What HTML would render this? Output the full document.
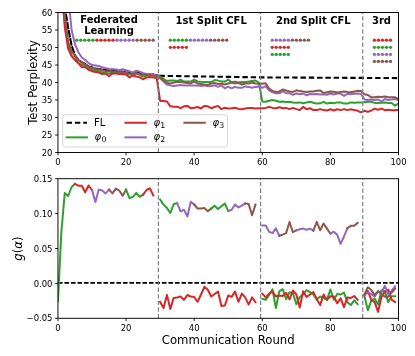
<!DOCTYPE html>
<html><head><meta charset="utf-8"><style>
html,body{margin:0;padding:0;background:#fff;}
svg{display:block;font-family:'DejaVu Sans', 'Liberation Sans', sans-serif;}
</style></head><body>
<svg width="415" height="356" viewBox="0 0 415 356">
<defs><clipPath id="ct"><rect x="57.95" y="12.50" width="340.55" height="140.00"/></clipPath>
<clipPath id="cb"><rect x="57.95" y="178.70" width="340.55" height="139.60"/></clipPath></defs>
<rect width="415" height="356" fill="#fff"/>
<polyline clip-path="url(#ct)" points="64.76,6.60 68.17,28.00 71.57,45.50 74.98,55.50 78.38,60.00 81.79,62.20 85.19,64.00 88.60,66.50 92.00,67.50 95.41,68.50 98.82,69.00 102.22,69.50 105.63,70.00 109.03,70.50 112.44,70.80 115.84,71.00 119.25,71.50 122.65,71.50 126.06,72.00 129.47,72.50 132.87,73.00 136.28,72.80 139.68,73.20 143.09,73.80 146.49,74.20 149.90,74.50 153.30,75.00 156.71,75.40 160.12,75.80" fill="none" stroke="#000" stroke-width="2.10" stroke-linejoin="round" stroke-linecap="square" stroke-dasharray="5.4 2.9"/>
<polyline clip-path="url(#ct)" points="159.40,75.80 194.17,76.33 262.28,77.40 330.39,77.75 398.50,78.10" fill="none" stroke="#000" stroke-width="2.1" stroke-dasharray="5.4 2.9" stroke-linecap="butt"/>
<polyline clip-path="url(#ct)" points="61.36,-40.00 64.76,20.00 68.17,45.00 71.57,55.50 74.98,60.00 78.38,63.00 81.79,65.00 85.19,66.00 88.60,68.50 92.00,70.00 95.41,70.50 98.82,71.50 102.22,72.50 105.63,72.90 109.03,73.40 112.44,72.50 115.84,73.00 119.25,73.20 122.65,73.00 126.06,73.50 129.47,74.50 132.87,74.50 136.28,73.10 139.68,75.00 143.09,76.50 146.49,75.50 149.90,74.50 153.30,75.50 156.71,75.30 160.12,76.70 163.52,78.70 166.93,81.10 170.33,80.60 173.74,80.60 177.14,81.10 180.55,79.60 183.95,81.60 187.36,81.60 190.76,81.50 194.17,79.60 197.58,81.40 200.98,81.80 204.39,82.00 207.79,82.00 211.20,82.00 214.60,80.10 218.01,80.60 221.41,81.40 224.82,81.60 228.23,79.60 231.63,82.50 235.04,83.50 238.44,82.50 241.85,82.00 245.25,82.00 248.66,81.60 252.06,81.10 255.47,80.60 258.87,82.50 262.28,101.40 265.69,101.80 269.09,100.70 272.50,100.00 275.90,100.70 279.31,101.80 282.71,101.40 286.12,102.10 289.52,101.80 292.93,102.40 296.33,102.80 299.74,102.40 303.15,103.30 306.55,102.40 309.96,101.80 313.36,102.80 316.77,103.60 320.17,103.30 323.58,101.80 326.98,103.60 330.39,102.80 333.80,103.30 337.20,102.40 340.61,102.40 344.01,103.60 347.42,103.60 350.82,102.40 354.23,102.80 357.63,102.50 361.04,102.60 364.44,102.20 367.85,101.80 371.26,101.70 374.66,102.90 378.07,102.90 381.47,102.70 384.88,102.40 388.28,102.90 391.69,102.90 395.09,105.70 398.50,103.50" fill="none" stroke="#2ca02c" stroke-width="2.00" stroke-linejoin="round" stroke-linecap="square" />
<polyline clip-path="url(#ct)" points="61.36,-13.80 64.76,27.00 68.17,48.80 71.57,56.00 74.98,59.80 78.38,63.10 81.79,67.20 85.19,67.20 88.60,69.80 92.00,71.20 95.41,71.90 98.82,72.60 102.22,74.10 105.63,73.40 109.03,76.30 112.44,73.40 115.84,73.50 119.25,73.90 122.65,74.20 126.06,74.50 129.47,77.40 132.87,75.50 136.28,76.50 139.68,77.40 143.09,79.30 146.49,77.40 149.90,77.00 153.30,77.40 156.71,77.90 160.12,100.90 163.52,100.90 166.93,101.50 170.33,106.30 173.74,106.70 177.14,106.70 180.55,108.20 183.95,106.30 187.36,105.90 190.76,108.20 194.17,107.70 197.58,107.00 200.98,108.50 204.39,105.90 207.79,106.30 211.20,108.20 214.60,107.00 218.01,105.90 221.41,109.20 224.82,107.70 228.23,108.50 231.63,108.20 235.04,107.70 238.44,108.90 241.85,109.20 245.25,108.50 248.66,107.90 252.06,108.00 255.47,108.50 258.87,108.20 262.28,108.30 265.69,107.90 269.09,106.90 272.50,107.90 275.90,108.20 279.31,107.20 282.71,108.20 286.12,107.90 289.52,109.10 292.93,107.90 296.33,109.10 299.74,110.10 303.15,106.90 306.55,109.30 309.96,108.20 313.36,110.10 316.77,110.00 320.17,109.10 323.58,110.10 326.98,110.50 330.39,109.30 333.80,110.50 337.20,109.30 340.61,110.10 344.01,109.10 347.42,110.10 350.82,109.30 354.23,110.10 357.63,110.80 361.04,112.30 364.44,110.80 367.85,111.90 371.26,110.50 374.66,108.60 378.07,109.70 381.47,108.60 384.88,110.20 388.28,109.70 391.69,110.20 395.09,110.20 398.50,109.70" fill="none" stroke="#d62728" stroke-width="2.00" stroke-linejoin="round" stroke-linecap="square" />
<polyline clip-path="url(#ct)" points="68.17,-5.00 71.57,30.00 74.98,44.20 78.38,52.20 81.79,57.50 85.19,59.80 88.60,63.10 92.00,65.10 95.41,65.40 98.82,65.90 102.22,67.30 105.63,68.30 109.03,68.70 112.44,69.00 115.84,69.60 119.25,70.30 122.65,69.20 126.06,70.20 129.47,71.20 132.87,72.60 136.28,70.70 139.68,71.60 143.09,73.10 146.49,74.00 149.90,74.50 153.30,74.00 156.71,75.40 160.12,78.20 163.52,81.60 166.93,84.50 170.33,85.40 173.74,85.90 177.14,85.40 180.55,84.90 183.95,85.40 187.36,85.40 190.76,85.40 194.17,85.60 197.58,85.40 200.98,85.90 204.39,85.40 207.79,86.20 211.20,85.90 214.60,85.40 218.01,86.90 221.41,85.40 224.82,88.30 228.23,86.60 231.63,88.30 235.04,86.90 238.44,87.80 241.85,87.80 245.25,86.40 248.66,86.90 252.06,87.80 255.47,86.90 258.87,86.50 262.28,87.80 265.69,86.10 269.09,90.50 272.50,92.40 275.90,93.30 279.31,93.30 282.71,91.40 286.12,92.90 289.52,93.30 292.93,94.80 296.33,93.50 299.74,94.30 303.15,93.50 306.55,95.40 309.96,94.00 313.36,94.30 316.77,94.00 320.17,94.40 323.58,94.20 326.98,94.70 330.39,93.50 333.80,94.50 337.20,93.50 340.61,93.60 344.01,95.90 347.42,93.80 350.82,94.20 354.23,93.80 357.63,93.50 361.04,94.00 364.44,99.40 367.85,100.00 371.26,99.60 374.66,100.10 378.07,99.60 381.47,101.30 384.88,99.00 388.28,100.10 391.69,99.60 395.09,99.00 398.50,100.10" fill="none" stroke="#9467bd" stroke-width="2.00" stroke-linejoin="round" stroke-linecap="square" />
<polyline clip-path="url(#ct)" points="61.36,-100.00 64.76,15.50 68.17,42.00 71.57,51.00 74.98,56.00 78.38,60.20 81.79,62.40 85.19,64.40 88.60,66.30 92.00,68.30 95.41,69.00 98.82,69.50 102.22,70.50 105.63,71.00 109.03,71.30 112.44,71.50 115.84,72.00 119.25,72.30 122.65,72.00 126.06,72.60 129.47,73.60 132.87,74.00 136.28,73.60 139.68,74.00 143.09,74.50 146.49,74.50 149.90,75.00 153.30,75.50 156.71,75.80 160.12,77.70 163.52,80.60 166.93,83.00 170.33,83.50 173.74,82.50 177.14,82.00 180.55,82.00 183.95,82.50 187.36,83.00 190.76,83.50 194.17,81.40 197.58,83.50 200.98,84.00 204.39,84.50 207.79,84.90 211.20,83.50 214.60,83.00 218.01,84.00 221.41,83.50 224.82,84.50 228.23,83.50 231.63,82.50 235.04,81.60 238.44,83.00 241.85,84.50 245.25,83.50 248.66,83.50 252.06,82.50 255.47,83.50 258.87,83.70 262.28,83.70 265.69,83.20 269.09,88.50 272.50,90.90 275.90,91.90 279.31,91.40 282.71,89.50 286.12,90.50 289.52,91.40 292.93,91.90 296.33,90.30 299.74,91.10 303.15,91.60 306.55,92.00 309.96,91.60 313.36,91.40 316.77,90.80 320.17,90.40 323.58,93.00 326.98,92.30 330.39,91.50 333.80,91.80 337.20,92.50 340.61,92.00 344.01,91.60 347.42,92.00 350.82,92.30 354.23,91.60 357.63,90.80 361.04,91.10 364.44,94.20 367.85,95.00 371.26,97.30 374.66,97.30 378.07,96.80 381.47,97.10 384.88,96.50 388.28,97.30 391.69,97.30 395.09,97.30 398.50,99.00" fill="none" stroke="#8c564b" stroke-width="2.00" stroke-linejoin="round" stroke-linecap="square" />
<line x1="158.41" y1="152.50" x2="158.41" y2="12.50" stroke="#808080" stroke-width="1.2" stroke-dasharray="4.3 2.3"/>
<line x1="260.58" y1="152.50" x2="260.58" y2="12.50" stroke="#808080" stroke-width="1.2" stroke-dasharray="4.3 2.3"/>
<line x1="362.74" y1="152.50" x2="362.74" y2="12.50" stroke="#808080" stroke-width="1.2" stroke-dasharray="4.3 2.3"/>
<text x="109.03" y="23.40" font-size="10.00" text-anchor="middle" font-weight="bold" >Federated</text>
<text x="109.03" y="34.30" font-size="10.00" text-anchor="middle" font-weight="bold" >Learning</text>
<text x="211.20" y="23.60" font-size="10.00" text-anchor="middle" font-weight="bold" >1st Split CFL</text>
<text x="313.36" y="23.60" font-size="10.00" text-anchor="middle" font-weight="bold" >2nd Split CFL</text>
<text x="381.47" y="23.60" font-size="10.00" text-anchor="middle" font-weight="bold" >3rd</text>
<line x1="76.70" y1="40.20" x2="80.73" y2="40.20" stroke="#2ca02c" stroke-width="0.6"/>
<line x1="80.73" y1="40.20" x2="84.76" y2="40.20" stroke="#2ca02c" stroke-width="0.6"/>
<line x1="84.76" y1="40.20" x2="88.79" y2="40.20" stroke="#2ca02c" stroke-width="0.6"/>
<line x1="88.79" y1="40.20" x2="92.82" y2="40.20" stroke="#2ca02c" stroke-width="0.6"/>
<line x1="92.82" y1="40.20" x2="96.85" y2="40.20" stroke="#2ca02c" stroke-width="0.6"/>
<line x1="96.85" y1="40.20" x2="100.88" y2="40.20" stroke="#d62728" stroke-width="0.6"/>
<line x1="100.88" y1="40.20" x2="104.91" y2="40.20" stroke="#d62728" stroke-width="0.6"/>
<line x1="104.91" y1="40.20" x2="108.94" y2="40.20" stroke="#d62728" stroke-width="0.6"/>
<line x1="108.94" y1="40.20" x2="112.97" y2="40.20" stroke="#d62728" stroke-width="0.6"/>
<line x1="112.97" y1="40.20" x2="117.00" y2="40.20" stroke="#d62728" stroke-width="0.6"/>
<line x1="117.00" y1="40.20" x2="121.03" y2="40.20" stroke="#9467bd" stroke-width="0.6"/>
<line x1="121.03" y1="40.20" x2="125.06" y2="40.20" stroke="#9467bd" stroke-width="0.6"/>
<line x1="125.06" y1="40.20" x2="129.09" y2="40.20" stroke="#9467bd" stroke-width="0.6"/>
<line x1="129.09" y1="40.20" x2="133.12" y2="40.20" stroke="#9467bd" stroke-width="0.6"/>
<line x1="133.12" y1="40.20" x2="137.15" y2="40.20" stroke="#9467bd" stroke-width="0.6"/>
<line x1="137.15" y1="40.20" x2="141.18" y2="40.20" stroke="#8c564b" stroke-width="0.6"/>
<line x1="141.18" y1="40.20" x2="145.21" y2="40.20" stroke="#8c564b" stroke-width="0.6"/>
<line x1="145.21" y1="40.20" x2="149.24" y2="40.20" stroke="#8c564b" stroke-width="0.6"/>
<line x1="149.24" y1="40.20" x2="153.27" y2="40.20" stroke="#8c564b" stroke-width="0.6"/>
<circle cx="76.70" cy="40.20" r="1.6" fill="#2ca02c"/>
<circle cx="80.73" cy="40.20" r="1.6" fill="#2ca02c"/>
<circle cx="84.76" cy="40.20" r="1.6" fill="#2ca02c"/>
<circle cx="88.79" cy="40.20" r="1.6" fill="#2ca02c"/>
<circle cx="92.82" cy="40.20" r="1.6" fill="#2ca02c"/>
<circle cx="96.85" cy="40.20" r="1.6" fill="#d62728"/>
<circle cx="100.88" cy="40.20" r="1.6" fill="#d62728"/>
<circle cx="104.91" cy="40.20" r="1.6" fill="#d62728"/>
<circle cx="108.94" cy="40.20" r="1.6" fill="#d62728"/>
<circle cx="112.97" cy="40.20" r="1.6" fill="#d62728"/>
<circle cx="117.00" cy="40.20" r="1.6" fill="#9467bd"/>
<circle cx="121.03" cy="40.20" r="1.6" fill="#9467bd"/>
<circle cx="125.06" cy="40.20" r="1.6" fill="#9467bd"/>
<circle cx="129.09" cy="40.20" r="1.6" fill="#9467bd"/>
<circle cx="133.12" cy="40.20" r="1.6" fill="#9467bd"/>
<circle cx="137.15" cy="40.20" r="1.6" fill="#8c564b"/>
<circle cx="141.18" cy="40.20" r="1.6" fill="#8c564b"/>
<circle cx="145.21" cy="40.20" r="1.6" fill="#8c564b"/>
<circle cx="149.24" cy="40.20" r="1.6" fill="#8c564b"/>
<circle cx="153.27" cy="40.20" r="1.6" fill="#8c564b"/>
<line x1="170.30" y1="40.20" x2="174.33" y2="40.20" stroke="#2ca02c" stroke-width="0.6"/>
<line x1="174.33" y1="40.20" x2="178.36" y2="40.20" stroke="#2ca02c" stroke-width="0.6"/>
<line x1="178.36" y1="40.20" x2="182.39" y2="40.20" stroke="#2ca02c" stroke-width="0.6"/>
<line x1="182.39" y1="40.20" x2="186.42" y2="40.20" stroke="#2ca02c" stroke-width="0.6"/>
<line x1="186.42" y1="40.20" x2="190.45" y2="40.20" stroke="#2ca02c" stroke-width="0.6"/>
<line x1="190.45" y1="40.20" x2="194.48" y2="40.20" stroke="#9467bd" stroke-width="0.6"/>
<line x1="194.48" y1="40.20" x2="198.51" y2="40.20" stroke="#9467bd" stroke-width="0.6"/>
<line x1="198.51" y1="40.20" x2="202.54" y2="40.20" stroke="#9467bd" stroke-width="0.6"/>
<line x1="202.54" y1="40.20" x2="206.57" y2="40.20" stroke="#9467bd" stroke-width="0.6"/>
<line x1="206.57" y1="40.20" x2="210.60" y2="40.20" stroke="#9467bd" stroke-width="0.6"/>
<line x1="210.60" y1="40.20" x2="214.63" y2="40.20" stroke="#8c564b" stroke-width="0.6"/>
<line x1="214.63" y1="40.20" x2="218.66" y2="40.20" stroke="#8c564b" stroke-width="0.6"/>
<line x1="218.66" y1="40.20" x2="222.69" y2="40.20" stroke="#8c564b" stroke-width="0.6"/>
<line x1="222.69" y1="40.20" x2="226.72" y2="40.20" stroke="#8c564b" stroke-width="0.6"/>
<circle cx="170.30" cy="40.20" r="1.6" fill="#2ca02c"/>
<circle cx="174.33" cy="40.20" r="1.6" fill="#2ca02c"/>
<circle cx="178.36" cy="40.20" r="1.6" fill="#2ca02c"/>
<circle cx="182.39" cy="40.20" r="1.6" fill="#2ca02c"/>
<circle cx="186.42" cy="40.20" r="1.6" fill="#2ca02c"/>
<circle cx="190.45" cy="40.20" r="1.6" fill="#9467bd"/>
<circle cx="194.48" cy="40.20" r="1.6" fill="#9467bd"/>
<circle cx="198.51" cy="40.20" r="1.6" fill="#9467bd"/>
<circle cx="202.54" cy="40.20" r="1.6" fill="#9467bd"/>
<circle cx="206.57" cy="40.20" r="1.6" fill="#9467bd"/>
<circle cx="210.60" cy="40.20" r="1.6" fill="#8c564b"/>
<circle cx="214.63" cy="40.20" r="1.6" fill="#8c564b"/>
<circle cx="218.66" cy="40.20" r="1.6" fill="#8c564b"/>
<circle cx="222.69" cy="40.20" r="1.6" fill="#8c564b"/>
<circle cx="226.72" cy="40.20" r="1.6" fill="#8c564b"/>
<line x1="170.30" y1="47.30" x2="174.33" y2="47.30" stroke="#d62728" stroke-width="0.6"/>
<line x1="174.33" y1="47.30" x2="178.36" y2="47.30" stroke="#d62728" stroke-width="0.6"/>
<line x1="178.36" y1="47.30" x2="182.39" y2="47.30" stroke="#d62728" stroke-width="0.6"/>
<line x1="182.39" y1="47.30" x2="186.42" y2="47.30" stroke="#d62728" stroke-width="0.6"/>
<circle cx="170.30" cy="47.30" r="1.6" fill="#d62728"/>
<circle cx="174.33" cy="47.30" r="1.6" fill="#d62728"/>
<circle cx="178.36" cy="47.30" r="1.6" fill="#d62728"/>
<circle cx="182.39" cy="47.30" r="1.6" fill="#d62728"/>
<circle cx="186.42" cy="47.30" r="1.6" fill="#d62728"/>
<line x1="272.20" y1="40.20" x2="276.23" y2="40.20" stroke="#9467bd" stroke-width="0.6"/>
<line x1="276.23" y1="40.20" x2="280.26" y2="40.20" stroke="#9467bd" stroke-width="0.6"/>
<line x1="280.26" y1="40.20" x2="284.29" y2="40.20" stroke="#9467bd" stroke-width="0.6"/>
<line x1="284.29" y1="40.20" x2="288.32" y2="40.20" stroke="#9467bd" stroke-width="0.6"/>
<line x1="288.32" y1="40.20" x2="292.35" y2="40.20" stroke="#9467bd" stroke-width="0.6"/>
<line x1="292.35" y1="40.20" x2="296.38" y2="40.20" stroke="#8c564b" stroke-width="0.6"/>
<line x1="296.38" y1="40.20" x2="300.41" y2="40.20" stroke="#8c564b" stroke-width="0.6"/>
<line x1="300.41" y1="40.20" x2="304.44" y2="40.20" stroke="#8c564b" stroke-width="0.6"/>
<line x1="304.44" y1="40.20" x2="308.47" y2="40.20" stroke="#8c564b" stroke-width="0.6"/>
<circle cx="272.20" cy="40.20" r="1.6" fill="#9467bd"/>
<circle cx="276.23" cy="40.20" r="1.6" fill="#9467bd"/>
<circle cx="280.26" cy="40.20" r="1.6" fill="#9467bd"/>
<circle cx="284.29" cy="40.20" r="1.6" fill="#9467bd"/>
<circle cx="288.32" cy="40.20" r="1.6" fill="#9467bd"/>
<circle cx="292.35" cy="40.20" r="1.6" fill="#8c564b"/>
<circle cx="296.38" cy="40.20" r="1.6" fill="#8c564b"/>
<circle cx="300.41" cy="40.20" r="1.6" fill="#8c564b"/>
<circle cx="304.44" cy="40.20" r="1.6" fill="#8c564b"/>
<circle cx="308.47" cy="40.20" r="1.6" fill="#8c564b"/>
<line x1="272.20" y1="47.30" x2="276.23" y2="47.30" stroke="#d62728" stroke-width="0.6"/>
<line x1="276.23" y1="47.30" x2="280.26" y2="47.30" stroke="#d62728" stroke-width="0.6"/>
<line x1="280.26" y1="47.30" x2="284.29" y2="47.30" stroke="#d62728" stroke-width="0.6"/>
<line x1="284.29" y1="47.30" x2="288.32" y2="47.30" stroke="#d62728" stroke-width="0.6"/>
<circle cx="272.20" cy="47.30" r="1.6" fill="#d62728"/>
<circle cx="276.23" cy="47.30" r="1.6" fill="#d62728"/>
<circle cx="280.26" cy="47.30" r="1.6" fill="#d62728"/>
<circle cx="284.29" cy="47.30" r="1.6" fill="#d62728"/>
<circle cx="288.32" cy="47.30" r="1.6" fill="#d62728"/>
<line x1="272.20" y1="54.40" x2="276.23" y2="54.40" stroke="#2ca02c" stroke-width="0.6"/>
<line x1="276.23" y1="54.40" x2="280.26" y2="54.40" stroke="#2ca02c" stroke-width="0.6"/>
<line x1="280.26" y1="54.40" x2="284.29" y2="54.40" stroke="#2ca02c" stroke-width="0.6"/>
<line x1="284.29" y1="54.40" x2="288.32" y2="54.40" stroke="#2ca02c" stroke-width="0.6"/>
<circle cx="272.20" cy="54.40" r="1.6" fill="#2ca02c"/>
<circle cx="276.23" cy="54.40" r="1.6" fill="#2ca02c"/>
<circle cx="280.26" cy="54.40" r="1.6" fill="#2ca02c"/>
<circle cx="284.29" cy="54.40" r="1.6" fill="#2ca02c"/>
<circle cx="288.32" cy="54.40" r="1.6" fill="#2ca02c"/>
<line x1="374.40" y1="40.20" x2="378.43" y2="40.20" stroke="#d62728" stroke-width="0.6"/>
<line x1="378.43" y1="40.20" x2="382.46" y2="40.20" stroke="#d62728" stroke-width="0.6"/>
<line x1="382.46" y1="40.20" x2="386.49" y2="40.20" stroke="#d62728" stroke-width="0.6"/>
<line x1="386.49" y1="40.20" x2="390.52" y2="40.20" stroke="#d62728" stroke-width="0.6"/>
<circle cx="374.40" cy="40.20" r="1.6" fill="#d62728"/>
<circle cx="378.43" cy="40.20" r="1.6" fill="#d62728"/>
<circle cx="382.46" cy="40.20" r="1.6" fill="#d62728"/>
<circle cx="386.49" cy="40.20" r="1.6" fill="#d62728"/>
<circle cx="390.52" cy="40.20" r="1.6" fill="#d62728"/>
<line x1="374.40" y1="47.30" x2="378.43" y2="47.30" stroke="#2ca02c" stroke-width="0.6"/>
<line x1="378.43" y1="47.30" x2="382.46" y2="47.30" stroke="#2ca02c" stroke-width="0.6"/>
<line x1="382.46" y1="47.30" x2="386.49" y2="47.30" stroke="#2ca02c" stroke-width="0.6"/>
<line x1="386.49" y1="47.30" x2="390.52" y2="47.30" stroke="#2ca02c" stroke-width="0.6"/>
<circle cx="374.40" cy="47.30" r="1.6" fill="#2ca02c"/>
<circle cx="378.43" cy="47.30" r="1.6" fill="#2ca02c"/>
<circle cx="382.46" cy="47.30" r="1.6" fill="#2ca02c"/>
<circle cx="386.49" cy="47.30" r="1.6" fill="#2ca02c"/>
<circle cx="390.52" cy="47.30" r="1.6" fill="#2ca02c"/>
<line x1="374.40" y1="54.40" x2="378.43" y2="54.40" stroke="#9467bd" stroke-width="0.6"/>
<line x1="378.43" y1="54.40" x2="382.46" y2="54.40" stroke="#9467bd" stroke-width="0.6"/>
<line x1="382.46" y1="54.40" x2="386.49" y2="54.40" stroke="#9467bd" stroke-width="0.6"/>
<line x1="386.49" y1="54.40" x2="390.52" y2="54.40" stroke="#9467bd" stroke-width="0.6"/>
<circle cx="374.40" cy="54.40" r="1.6" fill="#9467bd"/>
<circle cx="378.43" cy="54.40" r="1.6" fill="#9467bd"/>
<circle cx="382.46" cy="54.40" r="1.6" fill="#9467bd"/>
<circle cx="386.49" cy="54.40" r="1.6" fill="#9467bd"/>
<circle cx="390.52" cy="54.40" r="1.6" fill="#9467bd"/>
<line x1="374.40" y1="61.40" x2="378.43" y2="61.40" stroke="#8c564b" stroke-width="0.6"/>
<line x1="378.43" y1="61.40" x2="382.46" y2="61.40" stroke="#8c564b" stroke-width="0.6"/>
<line x1="382.46" y1="61.40" x2="386.49" y2="61.40" stroke="#8c564b" stroke-width="0.6"/>
<line x1="386.49" y1="61.40" x2="390.52" y2="61.40" stroke="#8c564b" stroke-width="0.6"/>
<circle cx="374.40" cy="61.40" r="1.6" fill="#8c564b"/>
<circle cx="378.43" cy="61.40" r="1.6" fill="#8c564b"/>
<circle cx="382.46" cy="61.40" r="1.6" fill="#8c564b"/>
<circle cx="386.49" cy="61.40" r="1.6" fill="#8c564b"/>
<circle cx="390.52" cy="61.40" r="1.6" fill="#8c564b"/>
<rect x="62.7" y="114.8" width="164.8" height="32.2" rx="2.5" ry="2.5" fill="#fff" fill-opacity="0.8" stroke="#cccccc" stroke-opacity="0.8" stroke-width="1"/>
<line x1="66.60" y1="122.75" x2="86.95" y2="122.75" stroke="#000" stroke-width="2.1" stroke-dasharray="5.4 2.9"/>
<text x="94.00" y="125.75" font-size="10.00" text-anchor="start" font-weight="normal" >FL</text>
<line x1="66.60" y1="137.35" x2="86.95" y2="137.35" stroke="#2ca02c" stroke-width="2.0" stroke-linecap="square"/>
<text x="94.60" y="140.35" font-size="10.00"><tspan font-style="italic">&#966;</tspan><tspan font-size="7.80" dy="2.0" dx="0.3">0</tspan></text>
<line x1="125.45" y1="122.75" x2="145.80" y2="122.75" stroke="#d62728" stroke-width="2.0" stroke-linecap="square"/>
<text x="153.45" y="125.75" font-size="10.00"><tspan font-style="italic">&#966;</tspan><tspan font-size="7.80" dy="2.0" dx="0.3">1</tspan></text>
<line x1="125.45" y1="137.35" x2="145.80" y2="137.35" stroke="#9467bd" stroke-width="2.0" stroke-linecap="square"/>
<text x="153.45" y="140.35" font-size="10.00"><tspan font-style="italic">&#966;</tspan><tspan font-size="7.80" dy="2.0" dx="0.3">2</tspan></text>
<line x1="184.40" y1="122.75" x2="204.75" y2="122.75" stroke="#8c564b" stroke-width="2.0" stroke-linecap="square"/>
<text x="212.40" y="125.75" font-size="10.00"><tspan font-style="italic">&#966;</tspan><tspan font-size="7.80" dy="2.0" dx="0.3">3</tspan></text>
<line x1="57.95" y1="282.9" x2="398.50" y2="282.9" stroke="#000" stroke-width="1.6" stroke-dasharray="4.6 1.9"/>
<polyline clip-path="url(#cb)" points="57.95,301.00 61.36,232.00 64.76,192.90 68.17,196.00 71.57,187.00 74.98,183.90" fill="none" stroke="#2ca02c" stroke-width="2.00" stroke-linejoin="round" stroke-linecap="square" />
<polyline clip-path="url(#cb)" points="74.98,183.90 78.38,185.70 81.79,185.70 85.19,192.30 88.60,185.50 92.00,190.00" fill="none" stroke="#d62728" stroke-width="2.00" stroke-linejoin="round" stroke-linecap="square" />
<polyline clip-path="url(#cb)" points="92.00,190.00 95.41,202.10 98.82,189.60 102.22,190.50 105.63,193.40 109.03,189.60" fill="none" stroke="#9467bd" stroke-width="2.00" stroke-linejoin="round" stroke-linecap="square" />
<polyline clip-path="url(#cb)" points="109.03,189.60 112.44,193.40 115.84,188.60 119.25,190.50 122.65,195.80 126.06,189.60" fill="none" stroke="#8c564b" stroke-width="2.00" stroke-linejoin="round" stroke-linecap="square" />
<polyline clip-path="url(#cb)" points="126.06,189.60 129.47,198.20 132.87,196.80 136.28,192.90 139.68,196.80 143.09,194.60" fill="none" stroke="#2ca02c" stroke-width="2.00" stroke-linejoin="round" stroke-linecap="square" />
<polyline clip-path="url(#cb)" points="143.09,194.60 146.49,190.00 149.90,188.40 153.30,195.50" fill="none" stroke="#d62728" stroke-width="2.00" stroke-linejoin="round" stroke-linecap="square" />
<polyline clip-path="url(#cb)" points="160.12,199.60 163.52,204.60 166.93,208.00 170.33,213.00 173.74,204.00 177.14,203.20" fill="none" stroke="#2ca02c" stroke-width="2.00" stroke-linejoin="round" stroke-linecap="square" />
<polyline clip-path="url(#cb)" points="177.14,203.20 180.55,211.30 183.95,209.70 187.36,216.40 190.76,201.80 194.17,204.50" fill="none" stroke="#9467bd" stroke-width="2.00" stroke-linejoin="round" stroke-linecap="square" />
<polyline clip-path="url(#cb)" points="194.17,204.50 197.58,208.50 200.98,208.50 204.39,208.00 207.79,211.30 211.20,208.50" fill="none" stroke="#8c564b" stroke-width="2.00" stroke-linejoin="round" stroke-linecap="square" />
<polyline clip-path="url(#cb)" points="211.20,208.50 214.60,205.70 218.01,209.10 221.41,206.30 224.82,203.50 228.23,211.00" fill="none" stroke="#2ca02c" stroke-width="2.00" stroke-linejoin="round" stroke-linecap="square" />
<polyline clip-path="url(#cb)" points="228.23,211.00 231.63,209.70 235.04,204.60 238.44,207.40 241.85,205.70 245.25,203.40" fill="none" stroke="#9467bd" stroke-width="2.00" stroke-linejoin="round" stroke-linecap="square" />
<polyline clip-path="url(#cb)" points="245.25,203.40 248.66,204.00 252.06,215.30 255.47,204.60" fill="none" stroke="#8c564b" stroke-width="2.00" stroke-linejoin="round" stroke-linecap="square" />
<polyline clip-path="url(#cb)" points="160.12,301.80 163.52,308.00 166.93,295.00 170.33,309.00 173.74,297.90 177.14,297.40 180.55,296.50 183.95,299.80 187.36,295.00 190.76,296.50 194.17,297.00 197.58,301.80 200.98,294.50 204.39,286.80 207.79,289.70 211.20,296.50 214.60,294.00 218.01,291.60 221.41,306.10 224.82,305.50 228.23,295.50 231.63,296.90 235.04,291.60 238.44,301.80 241.85,293.60 245.25,297.40 248.66,304.60 252.06,297.40 255.47,302.20" fill="none" stroke="#d62728" stroke-width="2.00" stroke-linejoin="round" stroke-linecap="square" />
<polyline clip-path="url(#cb)" points="262.28,225.40 265.69,225.40 269.09,231.70 272.50,233.10 275.90,228.30 279.31,235.80" fill="none" stroke="#9467bd" stroke-width="2.00" stroke-linejoin="round" stroke-linecap="square" />
<polyline clip-path="url(#cb)" points="279.31,235.80 282.71,234.60 286.12,233.10 289.52,222.00 292.93,232.20 296.33,230.40" fill="none" stroke="#8c564b" stroke-width="2.00" stroke-linejoin="round" stroke-linecap="square" />
<polyline clip-path="url(#cb)" points="296.33,230.40 299.74,229.20 303.15,228.60 306.55,229.70 309.96,228.60 313.36,230.60" fill="none" stroke="#9467bd" stroke-width="2.00" stroke-linejoin="round" stroke-linecap="square" />
<polyline clip-path="url(#cb)" points="313.36,230.60 316.77,221.90 320.17,230.30 323.58,223.50 326.98,228.60 330.39,233.70" fill="none" stroke="#8c564b" stroke-width="2.00" stroke-linejoin="round" stroke-linecap="square" />
<polyline clip-path="url(#cb)" points="330.39,233.70 333.80,231.70 337.20,234.80 340.61,243.80 344.01,236.50 347.42,228.00" fill="none" stroke="#9467bd" stroke-width="2.00" stroke-linejoin="round" stroke-linecap="square" />
<polyline clip-path="url(#cb)" points="347.42,228.00 350.82,225.80 354.23,225.80 357.63,222.80" fill="none" stroke="#8c564b" stroke-width="2.00" stroke-linejoin="round" stroke-linecap="square" />
<polyline clip-path="url(#cb)" points="262.28,298.90 265.69,299.80 269.09,295.00 272.50,289.20 275.90,308.00 279.31,291.40 282.71,289.20 286.12,299.30 289.52,292.30 292.93,293.30 296.33,304.20 299.74,297.00 303.15,294.50 306.55,290.20 309.96,292.10 313.36,294.50 316.77,299.30 320.17,296.50 323.58,297.90 326.98,299.80 330.39,289.50 333.80,299.80 337.20,294.00 340.61,294.50 344.01,292.60 347.42,302.20 350.82,305.10 354.23,300.30 357.63,304.20" fill="none" stroke="#2ca02c" stroke-width="2.00" stroke-linejoin="round" stroke-linecap="square" />
<polyline clip-path="url(#cb)" points="262.28,293.60 265.69,297.40 269.09,293.60 272.50,291.60 275.90,296.50 279.31,295.50 282.71,296.00 286.12,292.80 289.52,299.30 292.93,290.50 296.33,294.50 299.74,307.50 303.15,291.20 306.55,297.00 309.96,294.50 313.36,292.10 316.77,299.30 320.17,305.10 323.58,294.50 326.98,299.80 330.39,296.20 333.80,296.50 337.20,303.20 340.61,298.40 344.01,307.10 347.42,297.40 350.82,297.90 354.23,296.00 357.63,299.80" fill="none" stroke="#d62728" stroke-width="2.00" stroke-linejoin="round" stroke-linecap="square" />
<polyline clip-path="url(#cb)" points="364.44,296.30 367.85,310.20 371.26,300.60 374.66,298.70 378.07,304.50 381.47,290.30 384.88,291.40 388.28,302.10 391.69,296.30 395.09,296.30" fill="none" stroke="#2ca02c" stroke-width="2.00" stroke-linejoin="round" stroke-linecap="square" />
<polyline clip-path="url(#cb)" points="364.44,295.40 367.85,291.10 371.26,299.70 374.66,302.10 378.07,311.80 381.47,297.00 384.88,291.60 388.28,289.60 391.69,299.70 395.09,302.10" fill="none" stroke="#d62728" stroke-width="2.00" stroke-linejoin="round" stroke-linecap="square" />
<polyline clip-path="url(#cb)" points="364.44,294.90 367.85,292.50 371.26,294.00 374.66,296.80 378.07,291.10 381.47,292.50 384.88,285.80 388.28,294.40 391.69,290.60 395.09,286.30" fill="none" stroke="#9467bd" stroke-width="2.00" stroke-linejoin="round" stroke-linecap="square" />
<polyline clip-path="url(#cb)" points="364.44,294.40 367.85,287.30 371.26,290.10 374.66,294.90 378.07,291.40 381.47,294.00 384.88,296.80 388.28,296.80 391.69,292.50 395.09,288.70" fill="none" stroke="#8c564b" stroke-width="2.00" stroke-linejoin="round" stroke-linecap="square" />
<line x1="158.41" y1="318.30" x2="158.41" y2="178.70" stroke="#808080" stroke-width="1.2" stroke-dasharray="4.3 2.3"/>
<line x1="260.58" y1="318.30" x2="260.58" y2="178.70" stroke="#808080" stroke-width="1.2" stroke-dasharray="4.3 2.3"/>
<line x1="362.74" y1="318.30" x2="362.74" y2="178.70" stroke="#808080" stroke-width="1.2" stroke-dasharray="4.3 2.3"/>
<rect x="57.95" y="12.50" width="340.55" height="140.00" fill="none" stroke="#000" stroke-width="0.95"/>
<rect x="57.95" y="178.70" width="340.55" height="139.60" fill="none" stroke="#000" stroke-width="0.95"/>
<line x1="57.95" y1="152.50" x2="57.95" y2="155.30" stroke="#000" stroke-width="0.9"/>
<text x="57.95" y="164.80" font-size="8.45" text-anchor="middle" font-weight="normal" >0</text>
<line x1="126.06" y1="152.50" x2="126.06" y2="155.30" stroke="#000" stroke-width="0.9"/>
<text x="126.06" y="164.80" font-size="8.45" text-anchor="middle" font-weight="normal" >20</text>
<line x1="194.17" y1="152.50" x2="194.17" y2="155.30" stroke="#000" stroke-width="0.9"/>
<text x="194.17" y="164.80" font-size="8.45" text-anchor="middle" font-weight="normal" >40</text>
<line x1="262.28" y1="152.50" x2="262.28" y2="155.30" stroke="#000" stroke-width="0.9"/>
<text x="262.28" y="164.80" font-size="8.45" text-anchor="middle" font-weight="normal" >60</text>
<line x1="330.39" y1="152.50" x2="330.39" y2="155.30" stroke="#000" stroke-width="0.9"/>
<text x="330.39" y="164.80" font-size="8.45" text-anchor="middle" font-weight="normal" >80</text>
<line x1="398.50" y1="152.50" x2="398.50" y2="155.30" stroke="#000" stroke-width="0.9"/>
<text x="398.50" y="164.80" font-size="8.45" text-anchor="middle" font-weight="normal" >100</text>
<line x1="57.95" y1="318.30" x2="57.95" y2="321.10" stroke="#000" stroke-width="0.9"/>
<text x="57.95" y="330.60" font-size="8.45" text-anchor="middle" font-weight="normal" >0</text>
<line x1="126.06" y1="318.30" x2="126.06" y2="321.10" stroke="#000" stroke-width="0.9"/>
<text x="126.06" y="330.60" font-size="8.45" text-anchor="middle" font-weight="normal" >20</text>
<line x1="194.17" y1="318.30" x2="194.17" y2="321.10" stroke="#000" stroke-width="0.9"/>
<text x="194.17" y="330.60" font-size="8.45" text-anchor="middle" font-weight="normal" >40</text>
<line x1="262.28" y1="318.30" x2="262.28" y2="321.10" stroke="#000" stroke-width="0.9"/>
<text x="262.28" y="330.60" font-size="8.45" text-anchor="middle" font-weight="normal" >60</text>
<line x1="330.39" y1="318.30" x2="330.39" y2="321.10" stroke="#000" stroke-width="0.9"/>
<text x="330.39" y="330.60" font-size="8.45" text-anchor="middle" font-weight="normal" >80</text>
<line x1="398.50" y1="318.30" x2="398.50" y2="321.10" stroke="#000" stroke-width="0.9"/>
<text x="398.50" y="330.60" font-size="8.45" text-anchor="middle" font-weight="normal" >100</text>
<line x1="55.15" y1="152.50" x2="57.95" y2="152.50" stroke="#000" stroke-width="0.9"/>
<text x="52.45" y="155.60" font-size="8.45" text-anchor="end" font-weight="normal" >20</text>
<line x1="55.15" y1="135.00" x2="57.95" y2="135.00" stroke="#000" stroke-width="0.9"/>
<text x="52.45" y="138.10" font-size="8.45" text-anchor="end" font-weight="normal" >25</text>
<line x1="55.15" y1="117.50" x2="57.95" y2="117.50" stroke="#000" stroke-width="0.9"/>
<text x="52.45" y="120.60" font-size="8.45" text-anchor="end" font-weight="normal" >30</text>
<line x1="55.15" y1="100.00" x2="57.95" y2="100.00" stroke="#000" stroke-width="0.9"/>
<text x="52.45" y="103.10" font-size="8.45" text-anchor="end" font-weight="normal" >35</text>
<line x1="55.15" y1="82.50" x2="57.95" y2="82.50" stroke="#000" stroke-width="0.9"/>
<text x="52.45" y="85.60" font-size="8.45" text-anchor="end" font-weight="normal" >40</text>
<line x1="55.15" y1="65.00" x2="57.95" y2="65.00" stroke="#000" stroke-width="0.9"/>
<text x="52.45" y="68.10" font-size="8.45" text-anchor="end" font-weight="normal" >45</text>
<line x1="55.15" y1="47.50" x2="57.95" y2="47.50" stroke="#000" stroke-width="0.9"/>
<text x="52.45" y="50.60" font-size="8.45" text-anchor="end" font-weight="normal" >50</text>
<line x1="55.15" y1="30.00" x2="57.95" y2="30.00" stroke="#000" stroke-width="0.9"/>
<text x="52.45" y="33.10" font-size="8.45" text-anchor="end" font-weight="normal" >55</text>
<line x1="55.15" y1="12.50" x2="57.95" y2="12.50" stroke="#000" stroke-width="0.9"/>
<text x="52.45" y="15.60" font-size="8.45" text-anchor="end" font-weight="normal" >60</text>
<line x1="55.15" y1="318.30" x2="57.95" y2="318.30" stroke="#000" stroke-width="0.9"/>
<text x="52.45" y="321.40" font-size="8.45" text-anchor="end" font-weight="normal" >−0.05</text>
<line x1="55.15" y1="283.40" x2="57.95" y2="283.40" stroke="#000" stroke-width="0.9"/>
<text x="52.45" y="286.50" font-size="8.45" text-anchor="end" font-weight="normal" >0.00</text>
<line x1="55.15" y1="248.50" x2="57.95" y2="248.50" stroke="#000" stroke-width="0.9"/>
<text x="52.45" y="251.60" font-size="8.45" text-anchor="end" font-weight="normal" >0.05</text>
<line x1="55.15" y1="213.60" x2="57.95" y2="213.60" stroke="#000" stroke-width="0.9"/>
<text x="52.45" y="216.70" font-size="8.45" text-anchor="end" font-weight="normal" >0.10</text>
<line x1="55.15" y1="178.70" x2="57.95" y2="178.70" stroke="#000" stroke-width="0.9"/>
<text x="52.45" y="181.80" font-size="8.45" text-anchor="end" font-weight="normal" >0.15</text>
<text x="228.22" y="343.80" font-size="11.70" text-anchor="middle" font-weight="normal" >Communication Round</text>
<text transform="translate(36.9,82.50) rotate(-90)" font-size="11.70" text-anchor="middle">Test Perplexity</text>
<text transform="translate(21.6,248.50) rotate(-90)" font-size="11.70" text-anchor="middle"><tspan font-style="italic">g</tspan>(<tspan font-style="italic">&#945;</tspan>)</text>
</svg>
</body></html>
